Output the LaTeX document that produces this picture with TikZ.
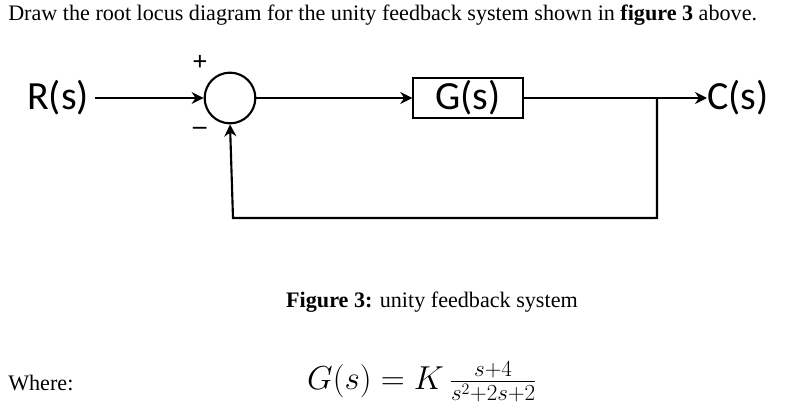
\documentclass[tikz,border=0pt]{standalone}
\usepackage{fontspec}
\setmainfont{Liberation Serif}
\newfontfamily\blkfont{Carlito}
\usetikzlibrary{arrows.meta}
\begin{document}
\begin{tikzpicture}[x=0.75pt,y=-0.75pt,
  line/.style={line width=1.6pt},
  arr/.style={line, -{Stealth[length=9pt,width=9pt]}},
  lbl/.style={font=\blkfont\fontsize{30}{32}\selectfont, inner sep=0pt}]
\useasboundingbox (0,0) rectangle (786,410);
\node[anchor=west,inner sep=0pt,font=\fontsize{16.6}{18}\selectfont] (title) at (8,15) {Draw the root locus diagram for the unity feedback system shown in \textbf{figure 3} above.};
\node[lbl,anchor=west] (R) at (27,98) {R(s)};
\node[circle,draw,line width=1.6pt,minimum size=38pt,inner sep=0pt] (sum) at (230,98) {};
\node[draw,line width=1.6pt,minimum width=82pt,minimum height=30pt,lbl] (G) at (468,98) {G(s)};
\node[lbl,anchor=west] (C) at (707,98) {C(s)};
\node[font=\bfseries\fontsize{20}{20}\selectfont,inner sep=0pt] (plus) at (200,63) {+};
\node[font=\bfseries\fontsize{20}{20}\selectfont,inner sep=0pt] (minus) at (200,131) {\textbf{--}};
\coordinate (br) at (657,98);
\coordinate (c1) at (657,218);
\coordinate (c2) at (233,218);
\draw[arr] (R.east) ++(6,0) -- (sum.west);
\draw[arr] (sum.east) -- (G.west);
\draw[arr] (G.east) -- (C.west);
\draw[arr] (br) -- (c1) -- (c2) -- (sum.south);
\node[font=\fontsize{16.6}{18}\selectfont,inner sep=0pt] (cap) at (432,302) {\textbf{Figure 3:} unity feedback system};
\node[anchor=west,font=\fontsize{16.6}{18}\selectfont,inner sep=0pt] (where) at (8,383) {Where:};
\node[font=\fontsize{24}{26}\selectfont,inner sep=0pt] (eq) at (422,382) {$G(s) = K\,\frac{s+4}{s^2+2s+2}$};
\end{tikzpicture}
\end{document}
